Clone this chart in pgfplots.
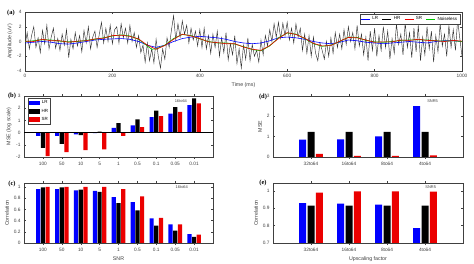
\documentclass[border=0pt]{standalone}
\usepackage{pgfplots}
\pgfplotsset{compat=1.18}
\usepackage{fontspec}
\setmainfont{Liberation Sans}
\newfontfamily\seriffont{Liberation Serif}
\definecolor{mblue}{rgb}{0,0,1}
\definecolor{mred}{rgb}{0.92,0,0}
\definecolor{mgreen}{rgb}{0,0.78,0}
\definecolor{axgray}{gray}{0.25}
\tikzset{
 tag/.style={font=\fontsize{4}{5}\selectfont, text=axgray},
 plab/.style={font=\seriffont\fontsize{6.5}{7}\selectfont\bfseries},
}
\pgfplotsset{
 /pgfplots/ybar legend/.style={/pgfplots/legend image code/.code={\fill[##1] (0bp,-2.3bp) rectangle (11bp,2.3bp);}},
 myax/.style={scale only axis, anchor=south west,
   axis line style={axgray, line width=0.4bp},
   every tick/.style={axgray, line width=0.35bp},
   tick align=inside, major tick length=2bp,
   ticklabel style={font=\fontsize{4.8}{5.5}\selectfont, text=axgray},
   label style={font=\fontsize{5.3}{6}\selectfont, text=axgray},
   /pgf/number format/assume math mode=true,
   /pgf/number format/1000 sep={},
   xlabel style={yshift=2bp}, ylabel style={yshift=-2bp},
 },
 barax/.style={myax, ybar=0.5bp, bar width=4.2bp, xmin=0, xmax=10, xtick={1,...,9},
   xticklabels={100,50,10,5,1,0.5,0.1,0.05,0.01}},
 catax/.style={myax, ybar=1.3bp, bar width=7bp, xmin=0, xmax=5, xtick={1,2,3,4},
   xticklabels={32to64,16to64,8to64,4to64}},
}
\begin{document}
\begin{tikzpicture}[x=1bp,y=1bp]
% ---------------- (a)
\begin{axis}[myax, at={(25bp,193bp)}, width=437bp, height=59bp,
  xmin=0, xmax=1000, ymin=-4, ymax=4, xtick={0,200,...,1000}, ytick={-4,-2,0,2,4},
  xlabel={Time (ms)}, ylabel={Amplitude (uV)},
  legend style={at={(0.995,0.965)}, anchor=north east, legend columns=4,
    font=\fontsize{4.5}{5}\selectfont, inner sep=0.6bp, draw=axgray, line width=0.3bp,
    /tikz/every even column/.append style={column sep=2bp}},
  legend image code/.code={\draw[#1] (0bp,0bp) -- (9bp,0bp);}]
\addplot[black!80, line width=0.45bp, forget plot] coordinates {
(0,-0.5)(5,1.2)(10,-1.0)(15,0.8)(20,2.0)(25,-0.8)(30,0.5)(35,-1.5)(40,1.5)(45,-0.3)
(50,2.2)(55,-1.0)(60,0.6)(65,1.8)(70,-0.9)(75,0.4)(80,-1.2)(85,1.0)(90,-0.5)(95,1.6)
(100,-2.2)(105,0.3)(110,-1.0)(115,1.2)(120,-0.6)(125,0.8)(130,-1.4)(135,1.5)(140,-0.2)(145,2.0)
(150,-1.0)(155,0.6)(160,1.4)(165,-0.8)(170,1.0)(175,2.6)(180,-0.2)(185,1.8)(190,0.0)(195,2.2)
(200,-0.3)(205,1.6)(210,2.0)(215,-0.2)(220,2.4)(225,0.5)(230,1.8)(235,-0.2)(240,2.2)(245,0.0)
(250,1.2)(255,-0.8)(260,0.8)(265,-1.5)(270,-0.5)(275,-2.8)(280,-0.2)(285,-2.6)(290,-1.0)(295,-2.9)
(300,0.3)(305,-2.0)(310,-3.6)(315,-1.0)(320,-2.4)(325,0.5)(330,-0.8)(335,1.5)(340,3.5)(345,0.2)
(350,2.4)(355,0.6)(360,2.8)(365,1.0)(370,2.2)(375,-0.2)(380,1.8)(385,0.2)(390,1.4)(395,-0.6)
(400,1.6)(405,-0.8)(410,1.8)(415,-1.0)(420,0.8)(425,-1.6)(430,1.0)(435,-0.8)(440,1.4)(445,-2.0)
(450,0.5)(455,-1.5)(460,1.2)(465,-2.5)(470,-0.3)(475,-1.8)(480,0.8)(485,-3.0)(490,-1.0)(495,-3.6)
(500,-0.5)(505,-2.4)(510,0.5)(515,-2.6)(520,-0.4)(525,-2.0)(530,-1.2)(535,-2.8)(540,0.2)(545,-1.8)
(550,0.8)(555,-0.6)(560,1.6)(565,0.0)(570,2.4)(575,0.6)(580,2.6)(585,0.4)(590,2.5)(595,0.8)
(600,2.6)(605,0.2)(610,1.8)(615,-0.2)(620,2.4)(625,0.6)(630,1.8)(635,-1.2)(640,1.0)(645,-1.6)
(650,0.8)(655,-2.0)(660,0.6)(665,-1.6)(670,-2.6)(675,-0.2)(680,-1.2)(685,-2.4)(690,0.0)(695,-2.0)
(700,0.5)(705,-1.6)(710,1.2)(715,-0.8)(720,1.0)(725,-1.0)(730,1.6)(735,-0.4)(740,2.0)(745,0.0)
(750,1.2)(755,-1.0)(760,2.2)(765,-0.6)(770,1.0)(775,-1.8)(780,0.6)(785,-2.6)(790,1.4)(795,-1.2)
(800,1.8)(805,-2.0)(810,0.8)(815,-1.2)(820,2.0)(825,-0.8)(830,1.4)(835,-2.4)(840,0.4)(845,-1.6)
(850,2.4)(855,-0.4)(860,1.0)(865,-1.8)(870,2.6)(875,-0.8)(880,1.2)(885,-2.2)(890,1.8)(895,-1.4)
(900,2.2)(905,-2.6)(910,0.6)(915,-1.8)(920,2.0)(925,-1.0)(930,1.4)(935,-2.8)(940,0.8)(945,-1.4)
(950,2.4)(955,-0.6)(960,1.0)(965,-2.0)(970,2.2)(975,-0.8)(980,1.6)(985,-1.2)(990,2.9)(995,0.4)(1000,-2.0)};
\addplot[mblue, line width=0.6bp, forget plot] coordinates {
(0,-0.2)(20,-0.1)(40,0.0)(60,-0.1)(80,-0.3)(100,-0.35)(120,-0.2)(140,0.0)(160,0.2)(180,0.3)
(200,0.35)(220,0.4)(240,0.3)(260,0.0)(280,-0.5)(300,-0.8)(320,-0.5)(340,0.0)(360,0.4)(380,0.6)
(400,0.7)(420,0.6)(440,0.5)(460,0.3)(480,0.0)(500,-0.2)(520,-0.3)(540,-0.2)(560,0.1)(580,0.5)
(600,0.6)(620,0.5)(640,0.3)(660,0.0)(680,-0.2)(700,-0.3)(720,-0.1)(740,0.2)(760,0.1)(780,-0.1)
(800,-0.2)(820,-0.3)(840,-0.2)(860,-0.1)(880,0.0)(900,-0.1)(920,-0.2)(940,0.0)(960,0.1)(980,0.1)(1000,0.0)};
\addplot[mgreen, line width=0.7bp, forget plot] coordinates {
(0,0.0)(20,0.1)(40,0.25)(60,0.2)(80,0.05)(100,-0.05)(120,0.0)(140,0.15)(160,0.3)(180,0.5)
(200,0.75)(220,0.9)(240,0.75)(260,0.3)(280,-0.6)(290,-1.05)(300,-1.0)(320,-0.5)(340,0.4)(360,0.95)(380,0.8)
(400,0.35)(420,0.0)(440,-0.2)(460,-0.2)(480,-0.35)(500,-0.7)(520,-1.1)(540,-1.25)(560,-0.6)(580,0.5)
(600,1.15)(620,1.0)(640,0.4)(660,-0.3)(680,-0.65)(700,-0.5)(720,0.0)(740,0.6)(760,0.55)(780,0.15)
(800,-0.05)(820,-0.1)(840,0.0)(860,0.15)(880,0.2)(900,0.25)(920,0.2)(940,0.1)(960,0.05)(980,0.1)(1000,0.0)};
\addplot[mred, line width=0.6bp, forget plot] coordinates {
(0,0.05)(20,0.0)(40,0.3)(60,0.1)(80,0.1)(100,-0.1)(120,0.05)(140,0.1)(160,0.35)(180,0.45)
(200,0.8)(220,0.85)(240,0.7)(260,0.35)(280,-0.5)(300,-1.05)(320,-0.55)(340,0.3)(360,1.0)(380,0.75)
(400,0.4)(420,-0.05)(440,-0.15)(460,-0.3)(480,-0.3)(500,-0.75)(520,-1.05)(540,-1.2)(560,-0.55)(580,0.4)
(600,1.2)(620,0.95)(640,0.45)(660,-0.25)(680,-0.6)(700,-0.55)(720,0.05)(740,0.55)(760,0.5)(780,0.2)
(800,-0.1)(820,-0.05)(840,-0.05)(860,0.2)(880,0.15)(900,0.3)(920,0.15)(940,0.1)(960,0.0)(980,0.15)(1000,0.05)};
\addlegendimage{mblue, line width=0.6bp}\addlegendentry{LR}
\addlegendimage{black, line width=0.6bp}\addlegendentry{HR}
\addlegendimage{mred, line width=0.6bp}\addlegendentry{SR}
\addlegendimage{mgreen, line width=0.6bp}\addlegendentry{Noiseless}
\end{axis}
% ---------------- (b)
\begin{axis}[barax, at={(24bp,107bp)}, width=189bp, height=61bp,
  ymin=-2, ymax=3, ytick={-2,-1,0,1,2,3}, ylabel={MSE (log scale)},
  legend style={at={(0.02,0.965)}, anchor=north west, legend columns=1,
    font=\fontsize{4.5}{5}\selectfont, inner sep=0.6bp, draw=axgray, line width=0.3bp,
    row sep=-0.5bp}]
\addplot[fill=mblue, draw=none] coordinates {(1,-0.27)(2,-0.27)(3,-0.15)(4,-0.05)(5,0.38)(6,0.6)(7,1.27)(8,1.55)(9,2.25)};
\addplot[fill=black, draw=none] coordinates {(1,-1.25)(2,-0.92)(3,-0.2)(4,0.08)(5,0.78)(6,1.08)(7,1.8)(8,2.08)(9,2.8)};
\addplot[fill=mred, draw=none] coordinates {(1,-1.92)(2,-1.6)(3,-1.43)(4,-1.38)(5,-0.27)(6,0.45)(7,1.35)(8,1.7)(9,2.4)};
\legend{LR,HR,SR}
\addplot[black, line width=0.4bp, sharp plot, forget plot] coordinates {(0,0)(10,0)};
\node[tag] at (axis cs:8.3,2.6) {16to64};
\end{axis}
% ---------------- (c)
\begin{axis}[barax, at={(24bp,21bp)}, width=189bp, height=60bp,
  ymin=0, ymax=1.07, ytick={0,0.2,0.4,0.6,0.8,1}, ylabel={Correlation}, xlabel={SNR}]
\addplot[fill=mblue, draw=none] coordinates {(1,0.96)(2,0.96)(3,0.94)(4,0.93)(5,0.82)(6,0.73)(7,0.44)(8,0.33)(9,0.16)};
\addplot[fill=black, draw=none] coordinates {(1,0.99)(2,0.99)(3,0.95)(4,0.91)(5,0.71)(6,0.58)(7,0.31)(8,0.22)(9,0.11)};
\addplot[fill=mred, draw=none] coordinates {(1,1.0)(2,1.0)(3,1.0)(4,1.0)(5,0.96)(6,0.83)(7,0.45)(8,0.33)(9,0.15)};
\node[tag] at (axis cs:8.35,1.0) {16to64};
\end{axis}
% ---------------- (d)
\begin{axis}[catax, at={(273bp,107bp)}, width=190bp, height=61bp,
  ymin=0, ymax=3, ytick={0,1,2,3}, ylabel={MSE}]
\addplot[fill=mblue, draw=none] coordinates {(1,0.85)(2,0.87)(3,1.02)(4,2.5)};
\addplot[fill=black, draw=none] coordinates {(1,1.23)(2,1.23)(3,1.23)(4,1.23)};
\addplot[fill=mred, draw=none] coordinates {(1,0.15)(2,0.05)(3,0.05)(4,0.08)};
\node[tag] at (axis cs:4.2,2.75) {SNR5};
\end{axis}
% ---------------- (e)
\begin{axis}[catax, at={(273bp,21bp)}, width=190bp, height=60bp,
  ymin=0.7, ymax=1.045, ytick={0.7,0.8,0.9,1}, ylabel={Correlation}, xlabel={Upscaling factor}]
\addplot[fill=mblue, draw=none] coordinates {(1,0.93)(2,0.927)(3,0.92)(4,0.785)};
\addplot[fill=black, draw=none] coordinates {(1,0.915)(2,0.915)(3,0.915)(4,0.915)};
\addplot[fill=mred, draw=none] coordinates {(1,0.99)(2,0.997)(3,0.997)(4,0.995)};
\node[tag] at (axis cs:4.15,1.02) {SNR5};
\end{axis}
\node[plab] at (11bp,251bp) {(a)};
\node[plab] at (12bp,168bp) {(b)};
\node[plab] at (12bp,80bp) {(c)};
\node[plab] at (263bp,167bp) {(d)};
\node[plab] at (263bp,81bp) {(e)};
\pgfresetboundingbox
\useasboundingbox (0bp,0bp) rectangle (474bp,264bp);
\end{tikzpicture}
\end{document}
